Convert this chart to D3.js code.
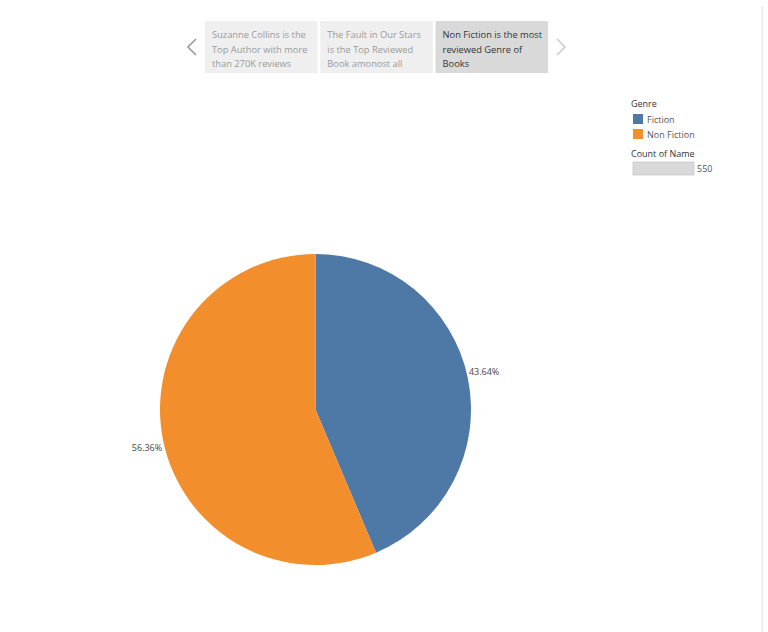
<!DOCTYPE html>
<html><head><meta charset="utf-8">
<script src="https://cdn.jsdelivr.net/npm/d3@7"></script>
<style>body{margin:0;background:#fff;}svg{display:block;font-family:"Open Sans","Noto Sans",sans-serif;}</style>
</head><body>
<svg id="c" width="768" height="632"></svg>
<script>
const genres = ["Fiction", "Non Fiction"];
const counts = [240, 310];
const colors = ["#4e79a7", "#f28e2b"];
const storyPoints = [
  ["Suzanne Collins is the", "Top Author with more", "than 270K reviews"],
  ["The Fault in Our Stars", "is the Top Reviewed", "Book amonost all"],
  ["Non Fiction is the most", "reviewed Genre of", "Books"]
];
const activePoint = 2;
const sizeLegendMax = 550;

const svg = d3.select("#c");

// right border
svg.append("rect").attr("x", 761).attr("y", 6).attr("width", 2).attr("height", 626).attr("fill", "#eeeeee");

// story navigation
const nav = svg.append("g");
const boxX = d3.scaleBand().domain(d3.range(storyPoints.length)).range([205, 548]).paddingInner(0.025);
storyPoints.forEach((lines, i) => {
  const g = nav.append("g").attr("transform", `translate(${boxX(i)},21)`);
  g.append("rect").attr("width", boxX.bandwidth()).attr("height", 52)
    .attr("fill", i === activePoint ? "#d9d9d9" : "#efefef");
  lines.forEach((t, j) => {
    g.append("text").attr("x", 7).attr("y", 17 + j * 14.5).attr("font-size", 9.3)
      .attr("fill", i === activePoint ? "#333" : "#9a9a9a").text(t);
  });
});
nav.append("path").attr("d", "M196,39 L188,47 L196,55").attr("fill", "none").attr("stroke", "#999").attr("stroke-width", 1.6);
nav.append("path").attr("d", "M557,39 L565,47 L557,55").attr("fill", "none").attr("stroke", "#ccc").attr("stroke-width", 1.6);

// legend
const lg = svg.append("g").attr("font-size", 9);
lg.append("text").attr("x", 631).attr("y", 107).attr("fill", "#333").text("Genre");
genres.forEach((g, i) => {
  lg.append("rect").attr("x", 633).attr("y", 114 + i * 15).attr("width", 10).attr("height", 10).attr("fill", colors[i]);
  lg.append("text").attr("x", 647).attr("y", 122.5 + i * 15).attr("fill", "#555").text(g);
});
lg.append("text").attr("x", 631).attr("y", 157).attr("fill", "#333").text("Count of Name");
const sizeScale = d3.scaleLinear().domain([0, sizeLegendMax]).range([0, 61]);
lg.append("rect").attr("x", 633).attr("y", 162).attr("width", sizeScale(sizeLegendMax)).attr("height", 13)
  .attr("fill", "#d9d9d9").attr("stroke", "#c4c4c4").attr("stroke-width", 0.7);
lg.append("text").attr("x", 697).attr("y", 172).attr("fill", "#555").text(sizeLegendMax);

// pie
const cx = 315.5, cy = 409.5, r = 155.5;
const data = genres.map((g, i) => ({genre: g, value: counts[i], color: colors[i]}));
const pie = d3.pie().value(d => d.value).sort(null);
const arcs = pie(data);
const arc = d3.arc().innerRadius(0).outerRadius(r);
const total = d3.sum(counts);
const pg = svg.append("g").attr("transform", `translate(${cx},${cy})`);
pg.selectAll("path").data(arcs).join("path").attr("d", arc).attr("fill", d => d.data.color);
pg.selectAll("text.l").data(arcs).join("text").attr("class", "l")
  .attr("font-size", 9).attr("fill", "#444")
  .each(function(d) {
    const mid = (d.startAngle + d.endAngle) / 2;
    const x = Math.sin(mid) * (r + 1);
    const y = -Math.cos(mid) * (r + 1);
    const right = mid < Math.PI;
    d3.select(this).attr("x", x).attr("y", y + (right ? -3 : 10))
      .attr("text-anchor", right ? "start" : "end");
  })
  .text(d => (d.data.value / total * 100).toFixed(2) + "%");
</script>
</body></html>
